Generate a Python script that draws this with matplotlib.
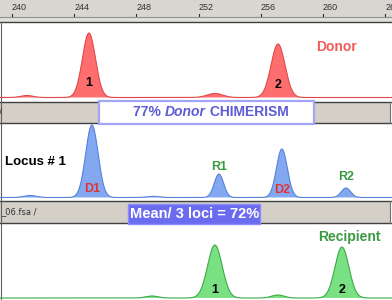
import numpy as np
import matplotlib.pyplot as plt
from matplotlib.patches import Rectangle

plt.rcParams['font.family'] = ['Liberation Sans', 'DejaVu Sans']

# size scale (bp)
ruler_ticks = [240, 244, 248, 252, 256, 260, 264]
x_lim = (239.23, 264.44)

# peaks: position (bp), height (rfu), width (bp)
donor_pos = [240.96, 244.95, 253.05, 257.11]
donor_h = [100, 3225, 200, 2675]
donor_w = [0.4, 0.42, 0.5, 0.45]

locus_pos = [241.16, 245.14, 249.07, 253.31, 257.36, 261.48]
locus_h = [100, 3625, 60, 1175, 2425, 475]
locus_w = [0.4, 0.4, 0.4, 0.3, 0.35, 0.3]

recip_pos = [249.0, 253.05, 257.1, 261.22]
recip_h = [100, 2650, 150, 2550]
recip_w = [0.4, 0.47, 0.4, 0.45]

W, H = 392, 300
fig = plt.figure(figsize=(W / 100, H / 100), dpi=100)

GRAY = '#d4d0c8'
DARK = '#404040'

# background: ruler + grey separator bands (pixel coords)
bg = fig.add_axes([0, 0, 1, 1])
bg.set_xlim(0, W)
bg.set_ylim(H, 0)
bg.axis('off')
bg.add_patch(Rectangle((0, 0), W, 17, color='#d8d6d0', lw=0))
bg.add_patch(Rectangle((0, 17), W, 4.5, color='#e2e0dc', lw=0))
bg.plot([0, W], [17, 17], color='#909090', lw=0.8)
bg.plot([0, W], [21.5, 21.5], color=DARK, lw=1.0)
for top, bot in [(101.5, 122.5), (201, 222.5)]:
    bg.add_patch(Rectangle((0, top), 390, bot - top, color=GRAY, lw=0))
    bg.plot([0, W], [top, top], color=DARK, lw=1.0)
    bg.plot([0, W], [bot, bot], color=DARK, lw=1.0)
    bg.plot([390.5, 390.5], [top, bot], color='#707070', lw=0.8)
bg.plot([0.5, 0.5], [22, 300], color='#606060', lw=0.8)
bg.text(-1, 112, '/', fontsize=6.5, color='#303030', va='center', family='DejaVu Sans')
bg.text(1, 211.5, '_06.fsa /', fontsize=6, color='#303030', va='center', family='DejaVu Sans')

# ruler
ruler = fig.add_axes([0, 1 - 17 / H, 1, 17 / H])
ruler.set_xlim(*x_lim)
ruler.set_ylim(0, 17)
ruler.axis('off')
for t in ruler_ticks:
    ruler.plot([t, t], [1, 3.5], color='#303030', lw=0.8)
    ruler.text(t, 4.5, str(t), fontsize=6.5, color='#303030', ha='left', va='bottom')


def panel(top, bot, ylim):
    ax = fig.add_axes([0, 1 - bot / H, 1, (bot - top) / H])
    ax.set_xlim(*x_lim)
    ax.set_ylim(*ylim)
    ax.axis('off')
    return ax


def trace(pos, h, w):
    x = np.linspace(x_lim[0], x_lim[1], 2000)
    y = np.zeros_like(x)
    for p, a, s in zip(pos, h, w):
        y += a * np.exp(-0.5 * ((x - p) / s) ** 2)
    return x, y


bold = dict(fontweight='bold', ha='center', va='center')

# donor panel
ax1 = panel(22, 101, (-175, 3775))
x, y = trace(donor_pos, donor_h, donor_w)
ax1.fill_between(x, 0, y, color='#ff6e6e', lw=0)
ax1.plot(x, y, color='#e04848', lw=0.8)
ax1.text(donor_pos[1], 725, '1', fontsize=9, color='black', **bold)
ax1.text(donor_pos[3], 625, '2', fontsize=9, color='black', **bold)
ax1.text(260.84, 2525, 'Donor', fontsize=10, color='#f05a5a', **bold)

# mixed sample panel
ax2 = panel(123, 201, (-175, 3725))
x, y = trace(locus_pos, locus_h, locus_w)
ax2.fill_between(x, 0, y, color='#84a8f0', lw=0)
ax2.plot(x, y, color='#5580dd', lw=0.8)
ax2.text(locus_pos[1], 425, 'D1', fontsize=9, color='#e03434', **bold)
ax2.text(locus_pos[4], 375, 'D2', fontsize=9, color='#e03434', **bold)
ax2.text(locus_pos[3], 1525, 'R1', fontsize=9, color='#3a9a40', **bold)
ax2.text(locus_pos[5], 1025, 'R2', fontsize=9, color='#3a9a40', **bold)
ax2.text(239.55, 1775, 'Locus # 1', fontsize=9.5, fontweight='bold',
         color='black', ha='left', va='center')

# recipient panel
ax3 = panel(223, 300, (-100, 3750))
x, y = trace(recip_pos, recip_h, recip_w)
ax3.fill_between(x, 0, y, color='#7ae084', lw=0)
ax3.plot(x, y, color='#3caa48', lw=0.8)
ax3.text(recip_pos[1], 400, '1', fontsize=9, color='black', **bold)
ax3.text(recip_pos[3], 400, '2', fontsize=9, color='black', **bold)
ax3.text(261.67, 3050, 'Recipient', fontsize=10, color='#3a9a40', **bold)

# overlay boxes
ov = fig.add_axes([0, 0, 1, 1])
ov.set_xlim(0, W)
ov.set_ylim(H, 0)
ov.axis('off')
ov.add_patch(Rectangle((99, 100.5), 215, 23, facecolor='white',
                       edgecolor='#a4a4f8', lw=1.6))
t1 = ov.text(133, 112, '77% ', fontsize=10, fontweight='bold',
             color='#5c5cd6', ha='left', va='center')
t2 = ov.annotate('Donor', xy=(1, 0), xycoords=t1, fontsize=10, fontweight='bold',
                 fontstyle='italic', color='#5c5cd6', ha='left', va='bottom')
ov.annotate(' CHIMERISM', xy=(1, 0), xycoords=t2, fontsize=10, fontweight='bold',
            color='#5c5cd6', ha='left', va='bottom')
ov.add_patch(Rectangle((128.5, 204), 132, 20, facecolor='#6b6bf0',
                       edgecolor='#8c8cff', lw=1.0))
ov.text(194.5, 214, 'Mean/ 3 loci = 72%', fontsize=10.5, fontweight='bold',
        color='white', ha='center', va='center')

fig.savefig('out.png', dpi=100)
